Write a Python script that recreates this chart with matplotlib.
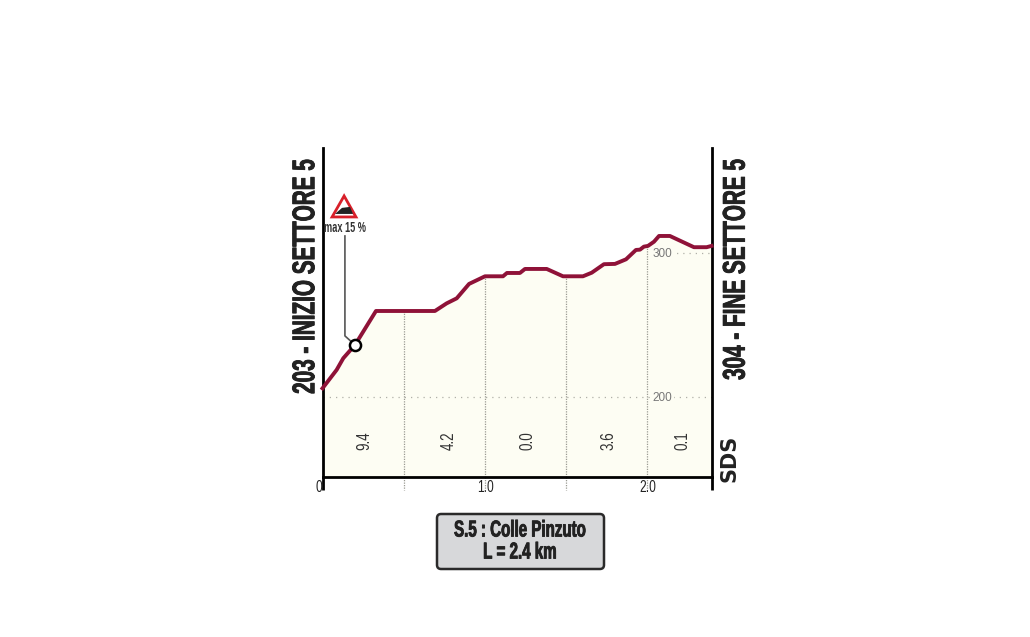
import matplotlib
matplotlib.use("Agg")
from matplotlib import pyplot as plt
from matplotlib import font_manager as fm
from matplotlib import patheffects as pe
from matplotlib.patches import FancyBboxPatch, Polygon
from fontTools.ttLib import TTFont

km = [0.0, 0.087, 0.128, 0.2, 0.329, 0.692, 0.764, 0.826, 0.902, 1.0, 1.111, 1.135, 1.215, 1.246,
      1.38, 1.48, 1.603, 1.657, 1.732, 1.8, 1.868, 1.929, 1.954, 1.978, 2.003, 2.04, 2.071, 2.138,
      2.286, 2.364, 2.394]
quota = [206, 218.8, 226.9, 236.1, 259.7, 259.7, 265, 268.5, 278.5, 283.8, 283.8, 286.1, 286.1, 288.9,
         288.9, 283.8, 283.8, 286.3, 292.2, 292.4, 295.6, 302.1, 302.3, 304.4, 304.9, 307.8, 311.8, 311.8,
         304, 304, 304.9]
slope_x = [0.262, 0.781, 1.266, 1.765, 2.221]
slope_labels = ["9.4", "4.2", "0.0", "3.6", "0.1"]
x_major = [1.0, 2.0]
x_labels = ["1.0", "2.0"]
x_minor = [0.5, 1.5]
y_levels = [200, 300]
y_line_start = [0, 2.1]
max_km = 0.2
max_quota = 236.1
x_end = 2.394
y_bottom = 144.4
y_top = 372.9


# no condensed family is installed, so squeeze Liberation Sans into one
def condensed(weight, factor, out):
    path = fm.findfont(fm.FontProperties(family="Liberation Sans", weight=weight))
    font = TTFont(path)
    glyf = font["glyf"]
    hmtx = font["hmtx"]
    for name in font.getGlyphOrder():
        g = glyf[name]
        if g.isComposite():
            for c in g.components:
                c.x = int(c.x * factor)
        elif g.numberOfContours > 0:
            g.coordinates.scale((factor, 1))
            g.coordinates.toInt()
    for name in font.getGlyphOrder():
        glyf[name].recalcBounds(glyf)
        adv, lsb = hmtx[name]
        hmtx[name] = (int(adv * factor), int(lsb * factor))
    if "kern" in font:
        del font["kern"]
    font.save(out)
    return fm.FontProperties(fname=out)


bold_narrow = condensed("bold", 0.66, "narrow_bold.ttf")
reg_narrow = condensed("normal", 0.75, "narrow_reg.ttf")


def fp(base, size):
    p = base.copy()
    p.set_size(size)
    return p


# the reference lettering is heavier than the squeezed bold
heavy = [pe.withStroke(linewidth=0.6, foreground="#222222")]

W, H = 1030, 637
fig = plt.figure(figsize=(W / 100, H / 100), dpi=100)
ax = fig.add_axes([322.5 / W, 1 - 477 / H, 389 / W, 329 / H])
ax.set_xlim(0, x_end)
ax.set_ylim(y_bottom, y_top)
ax.fill_between(km, quota, y_bottom, color="#fdfdf3", lw=0, zorder=1)

# grid
for x, top in zip([0.5, 1.0, 1.5, 2.0], [259.7, 283.8, 283.8, 304.9]):
    ax.plot([x, x], [y_bottom, top], color="#9a9a92", lw=0.9, ls=(0, (1, 1)), zorder=2)
for y, x0 in zip(y_levels, y_line_start):
    ax.plot([x0, x_end], [y, y], color="#b0b0a8", lw=0.9, ls=(0, (1, 4)), zorder=2)
    ax.text(2.03, y, str(y), fontsize=8.5, family="Liberation Sans", color="#777777", va="center_baseline",
            ha="left", bbox=dict(facecolor="#fdfdf3", edgecolor="none", pad=1), zorder=3)

ax.plot(km, quota, color="#8f1238", lw=2.8, solid_joinstyle="round", zorder=5, clip_on=False)

# frame
ax.spines["top"].set_visible(False)
for s in ["left", "right", "bottom"]:
    ax.spines[s].set_linewidth(2.0)
ax.set_yticks([])
ax.set_xticks([0, x_end])
ax.set_xticklabels([])
ax.tick_params(axis="x", length=9.5, width=2.0, color="black")
for x in x_minor + x_major:
    ax.plot([x, x], [y_bottom, y_bottom - 9], color="#9a9a92", lw=0.9, ls=(0, (1, 1)), clip_on=False)

for x, lab in zip(x_major, x_labels):
    ax.text(x + 0.005, y_bottom - 7, lab, fontproperties=fp(reg_narrow, 11.5), ha="center", va="center",
            color="#222222")
ax.text(-0.02, y_bottom - 7, "0", fontproperties=fp(reg_narrow, 11.5), ha="center", va="center", color="#222222")

for x, lab in zip(slope_x, slope_labels):
    ax.text(x, 163.2, lab, rotation=90, fontproperties=fp(reg_narrow, 13), ha="center", va="bottom", color="#333333")

# side titles
ax.text(-0.100, 283.7, "203 - INIZIO SETTORE 5", rotation=90, fontproperties=fp(bold_narrow, 22.6),
        ha="center", va="center", color="#222222", path_effects=heavy)
ax.text(x_end + 0.155, 288.5, "304 - FINE SETTORE 5", rotation=90, fontproperties=fp(bold_narrow, 22.6),
        ha="center", va="center", color="#222222", path_effects=heavy)
ax.text(x_end + 0.108, 157.3, "SDS", rotation=90, fontsize=15, fontweight="bold", ha="center", va="center",
        color="#222222")

# max gradient marker
ax.plot([0.138, 0.138, 0.2], [311.8, 242.4, max_quota], color="#555555", lw=1.2, zorder=4)
ax.plot([max_km], [max_quota], "o", ms=8, mfc="white", mec="black", mew=1.8, zorder=6)
ax.add_patch(Polygon([[0.133, 339.6], [0.059, 325], [0.206, 325]], closed=True, fc="white", ec="#d8202a", lw=2,
                     joinstyle="miter", zorder=6))
ax.add_patch(Polygon([[0.077, 327.1], [0.188, 327.1], [0.169, 332], [0.12, 331.3]], closed=True, fc="#222222",
                     ec="none", zorder=7))
ax.text(0.14, 317.4, "max 15 %", fontproperties=fp(bold_narrow, 10), ha="center", va="center", color="#333333")

# name box
box = FancyBboxPatch((437 / W, 1 - 569 / H), 167 / W, 55 / H, transform=fig.transFigure,
                     boxstyle="round,pad=0,rounding_size=0.004", fc="#d7d8da", ec="#2a2a2a", lw=1.8,
                     mutation_aspect=W / H)
fig.add_artist(box)
fig.text(520 / W, 1 - 530 / H, "S.5 : Colle Pinzuto", fontproperties=fp(bold_narrow, 16.5),
         ha="center", va="center", color="#222222", path_effects=heavy)
fig.text(520 / W, 1 - 552 / H, "L = 2.4 km", fontproperties=fp(bold_narrow, 16.5),
         ha="center", va="center", color="#222222", path_effects=heavy)

fig.savefig("out.png", dpi=100)
